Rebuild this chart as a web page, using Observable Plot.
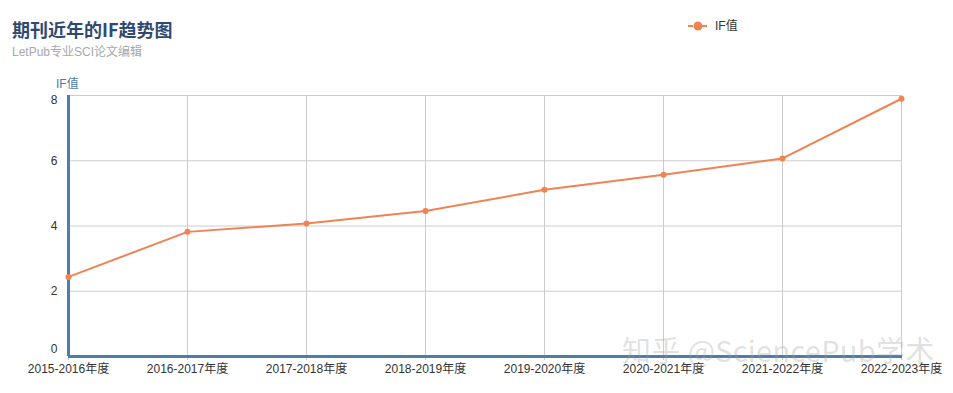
<!DOCTYPE html>
<html>
<head>
<meta charset="utf-8">
<script src="https://cdn.jsdelivr.net/npm/d3@7"></script>
<script src="https://cdn.jsdelivr.net/npm/@observablehq/plot@0.6"></script>
<style>
  html, body { margin: 0; padding: 0; background: #fff; }
  body { width: 953px; height: 393px; position: relative; overflow: hidden;
         font-family: "Liberation Sans", Arial, "Noto Sans CJK SC", sans-serif; }
  #chart { position: absolute; left: 0; top: 0; }
  .title { position: absolute; left: 12px; top: 17px; font-size: 18px; font-weight: bold;
           color: #2f4a72; font-family: "Noto Sans CJK SC", sans-serif; line-height: 24px; }
  .subtitle { position: absolute; left: 12px; top: 44px; font-size: 12px; color: #a8a8a8;
              font-family: "Liberation Sans", "Noto Sans CJK SC", sans-serif; line-height: 16px; }
  .legend { position: absolute; left: 688px; top: 17px; font-size: 12px; color: #333;
            display: flex; align-items: center; line-height: 18px;
            font-family: "Liberation Sans", "Noto Sans CJK SC", sans-serif; }
  .ylabel { position: absolute; left: 56px; top: 76px; font-size: 12px; color: #4a7ca8;
            font-family: "Liberation Sans", "Noto Sans CJK SC", sans-serif; line-height: 16px; }
  .watermark { position: absolute; left: 622px; top: 331px; font-size: 29px; color: rgba(160,160,160,0.32);
               font-family: "Noto Sans CJK SC", sans-serif; line-height: 36px; pointer-events: none;
               white-space: nowrap; letter-spacing: 0.3px; }
</style>
</head>
<body>
<div id="chart"></div>
<div class="title">期刊近年的IF趋势图</div>
<div class="subtitle">LetPub专业SCI论文编辑</div>
<div class="ylabel">IF值</div>
<div class="legend">
  <svg width="22" height="12" style="margin-right:5px">
    <line x1="0" y1="6" x2="20" y2="6" stroke="#ef8354" stroke-width="2" stroke-dasharray="5,2"/>
    <circle cx="10" cy="6" r="4.5" fill="#ef8354"/>
  </svg>
  <span>IF值</span>
</div>
<div class="watermark">知乎 @SciencePub学术</div>
<script>
const years = ["2015-2016年度","2016-2017年度","2017-2018年度","2018-2019年度",
               "2019-2020年度","2020-2021年度","2021-2022年度","2022-2023年度"];
const ifValues = [2.44, 3.82, 4.08, 4.46, 5.11, 5.57, 6.07, 7.90];
const yTicks = [0, 2, 4, 6, 8];

const data = years.map((y, i) => ({year: y, value: ifValues[i]}));
const lineColor = "#ef8354";
const axisColor = "#4e7ea8";
const gridColor = "#cccccc";

const chart = Plot.plot({
  width: 953,
  height: 393,
  marginLeft: 68,
  marginRight: 51,
  marginTop: 95,
  marginBottom: 37,
  style: {fontFamily: "'Liberation Sans', Arial, 'Noto Sans CJK SC', sans-serif", fontSize: "12px", color: "#333", background: "transparent"},
  x: {type: "point", domain: years, padding: 0, align: 0},
  y: {domain: [0, 8]},
  marks: [
    Plot.gridX(years, {stroke: gridColor, strokeOpacity: 1}),
    Plot.gridY(yTicks.filter(d => d > 0), {stroke: gridColor, strokeOpacity: 1}),
    Plot.axisX(years, {tickSize: 4, stroke: gridColor, tickPadding: 4, fill: "#333", fontSize: 12, label: null}),
    Plot.axisY([2, 4, 6], {tickSize: 0, tickPadding: 11, fill: "#333", fontSize: 12, label: null}),
    Plot.axisY([8], {tickSize: 0, tickPadding: 11, fill: "#333", fontSize: 12, label: null, dy: 5}),
    Plot.axisY([0], {tickSize: 0, tickPadding: 11, fill: "#333", fontSize: 12, label: null, dy: -7}),
    Plot.ruleY([0], {stroke: axisColor, strokeWidth: 3}),
    Plot.ruleX([years[0]], {stroke: axisColor, strokeWidth: 3}),
    Plot.line(data, {x: "year", y: "value", stroke: lineColor, strokeWidth: 2}),
    Plot.dot(data, {x: "year", y: "value", fill: lineColor, r: 3})
  ]
});
document.getElementById("chart").appendChild(chart);
</script>
</body>
</html>
